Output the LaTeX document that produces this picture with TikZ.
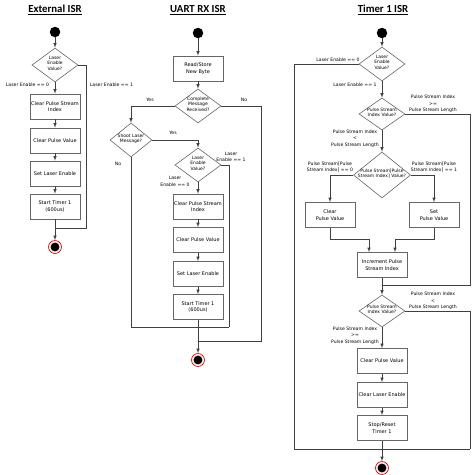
\documentclass[tikz,border=0pt]{standalone}
\usepackage{fontspec}
\setmainfont{DejaVu Sans}
\newfontfamily\headfont{Carlito}
\usetikzlibrary{shapes.geometric}

% text inside a diamond, kept from resizing it
\newcommand\dtxt[1]{\makebox[0pt]{\smash{\begin{tabular}{@{}c@{}}#1\end{tabular}}}}

\begin{document}
\begin{tikzpicture}[x=1pt, y=-1pt,
        line/.style={black!75, line width=0.6pt},
        arr/.style={line, -latex},
        act/.style={draw=black!60, fill=white, line width=0.6pt, minimum width=50pt, minimum height=25pt,
            inner sep=0pt, align=center, font=\fontsize{5}{6.5}\selectfont},
        dec/.style={diamond, draw=black!60, fill=white, line width=0.6pt, minimum width=46pt,
            minimum height=34pt, inner sep=0pt, font=\fontsize{4.5}{5.7}\selectfont},
        lbl/.style={align=center, inner sep=0pt, font=\fontsize{4.6}{6.5}\selectfont},
        head/.style={font=\headfont\bfseries\fontsize{10.8}{12}\selectfont},
        startst/.style={circle, fill=black, minimum size=10.5pt, inner sep=0pt},
        endst/.style={circle, draw=red!80!black, fill=red!8, line width=0.6pt, minimum size=13pt, inner sep=0pt,
            path picture={\fill[black] (path picture bounding box.center) circle (4.4pt);}}]
                \useasboundingbox (0,0) rectangle (474,475);

                % External ISR
                \node[head] (e1h) at (55,10) {\underline{External ISR}};
                \node[startst] (e1s) at (55,32) {};
                \node[dec] (e1d) at (55,65) {\dtxt{Laser\\Enable\\Value?}};
                \node[act] (e1a) at (55,106.5) {Clear Pulse Stream\\Index};
                \node[act] (e1b) at (55,140.5) {Clear Pulse Value};
                \node[act] (e1c) at (55,173.5) {Set Laser Enable};
                \node[act] (e1t) at (55,206.5) {Start Timer 1\\(600us)};
                \node[endst] (e1x) at (55,247) {};
                \node[lbl] (e1l0) at (27.5,85) {Laser Enable == 0};
                \node[lbl] (e1l1) at (111.5,85) {Laser Enable == 1};
                \coordinate (e1r) at (86,228);
                \coordinate (e1j) at (55,228);
                \draw[arr] (e1s) -- (e1d);
                \draw[arr] (e1d) -- (e1a);
                \draw[arr] (e1a) -- (e1b);
                \draw[arr] (e1b) -- (e1c);
                \draw[arr] (e1c) -- (e1t);
                \draw[arr] (e1t) -- (e1x);
                \draw[line] (e1d.east) -| (e1r) -- (e1j);

                % UART RX ISR
                \node[head] (u1h) at (198,10) {\underline{UART RX ISR}};
                \node[startst] (u1s) at (198,33) {};
                \node[act] (u1a) at (198,68.5) {Read/Store\\New Byte};
                \node[dec] (u1d) at (198,106) {\dtxt{Complete\\Message\\Received?}};
                \node[dec, minimum width=42pt] (u1q) at (131,140) {\dtxt{Shoot Laser\\Message?}};
                \node[dec] (u1l) at (198,165) {\dtxt{Laser\\Enable\\Value?}};
                \node[act] (u1b) at (198,206.5) {Clear Pulse Stream\\Index};
                \node[act] (u1c) at (198,240) {Clear Pulse Value};
                \node[act] (u1e) at (198,274) {Set Laser Enable};
                \node[act] (u1t) at (198,307) {Start Timer 1\\(600us)};
                \node[endst] (u1x) at (198,360) {};
                \node[lbl] (u1y1) at (150,100) {Yes};
                \node[lbl] (u1n1) at (244,100) {No};
                \node[lbl] (u1y2) at (173,133) {Yes};
                \node[lbl] (u1n2) at (118,164) {No};
                \node[lbl] (u1l1) at (231,157) {Laser\\Enable == 1};
                \node[lbl] (u1l0) at (175,181.5) {Laser\\Enable == 0};
                \coordinate (u1nr) at (261,341);
                \coordinate (u1nj) at (198,341);
                \coordinate (u1qr) at (229,327);
                \draw[arr] (u1s) -- (u1a);
                \draw[arr] (u1a) -- (u1d);
                \draw[arr] (u1d.west) -| (u1q.north);
                \draw[arr] (u1q.east) -| (u1l.north);
                \draw[arr] (u1l) -- (u1b);
                \draw[arr] (u1b) -- (u1c);
                \draw[arr] (u1c) -- (u1e);
                \draw[arr] (u1e) -- (u1t);
                \draw[arr] (u1t) -- (u1x);
                \draw[line] (u1q.south) |- (u1qr);
                \draw[line] (u1l.east) -| (u1qr);
                \draw[line] (u1d.east) -| (u1nr) -- (u1nj);

                % Timer 1 ISR
                \node[head] (t1h) at (383,10) {\underline{Timer 1 ISR}};
                \node[startst] (t1s) at (382,33) {};
                \node[dec] (t1l) at (382,64) {\dtxt{Laser\\Enable\\Value?}};
                \node[dec, minimum height=32pt] (t1i) at (382,114) {\dtxt{Pulse Stream\\Index Value?}};
                \node[dec, minimum width=57pt, minimum height=46pt] (t1p) at (382,175) {\dtxt{Pulse Stream[Pulse\\Stream Index] Value?}};
                \node[act] (t1c) at (330,215) {Clear\\Pulse Value};
                \node[act] (t1v) at (434,215) {Set\\Pulse Value};
                \node[act] (t1n) at (382,265) {Increment Pulse\\Stream Index};
                \node[dec, minimum height=32pt] (t1k) at (382,311) {\dtxt{Pulse Stream\\Index Value?}};
                \node[act] (t1cp) at (382,361) {Clear Pulse Value};
                \node[act] (t1cl) at (382,395) {Clear Laser Enable};
                \node[act] (t1st) at (382,428) {Stop/Reset\\Timer 1};
                \node[endst] (t1x) at (382,468) {};
                \node[lbl] (t1l0) at (338,60) {Laser Enable == 0};
                \node[lbl] (t1l1) at (355,85) {Laser Enable == 1};
                \node[lbl] (t1ge1) at (433,104) {Pulse Stream Index\\>=\\Pulse Stream Length};
                \node[lbl] (t1lt1) at (355,138.5) {Pulse Stream Index\\<\\Pulse Stream Length};
                \node[lbl] (t1p0) at (330,167) {Pulse Stream[Pulse\\Stream Index] == 0};
                \node[lbl] (t1p1) at (434,167) {Pulse Stream[Pulse\\Stream Index] == 1};
                \node[lbl] (t1lt2) at (433,301) {Pulse Stream Index\\<\\Pulse Stream Length};
                \node[lbl] (t1ge2) at (355,335.5) {Pulse Stream Index\\>=\\Pulse Stream Length};
                \coordinate (t1bl) at (294,449);
                \coordinate (t1br) at (470,449);
                \coordinate (t1ir) at (470,285);
                \coordinate (t1ij) at (382,285);
                \coordinate (t1cm) at (369,239);
                \coordinate (t1vm) at (395,239);
                \draw[arr] (t1s) -- (t1l);
                \draw[arr] (t1l) -- (t1i);
                \draw[arr] (t1i) -- (t1p);
                \draw[arr] (t1p.west) -| (t1c.north);
                \draw[arr] (t1p.east) -| (t1v.north);
                \draw[arr] (t1c.south) |- (t1cm) -- (t1cm |- t1n.north);
                \draw[arr] (t1v.south) |- (t1vm) -- (t1vm |- t1n.north);
                \draw[arr] (t1n) -- (t1k);
                \draw[arr] (t1k) -- (t1cp);
                \draw[arr] (t1cp) -- (t1cl);
                \draw[arr] (t1cl) -- (t1st);
                \draw[arr] (t1st) -- (t1x);
                \draw[line] (t1i.east) -| (t1ir) -- (t1ij);
                \draw[line] (t1k.east) -| (t1br);
                \draw[line] (t1l.west) -| (t1bl) -- (t1br);
\end{tikzpicture}
\end{document}
